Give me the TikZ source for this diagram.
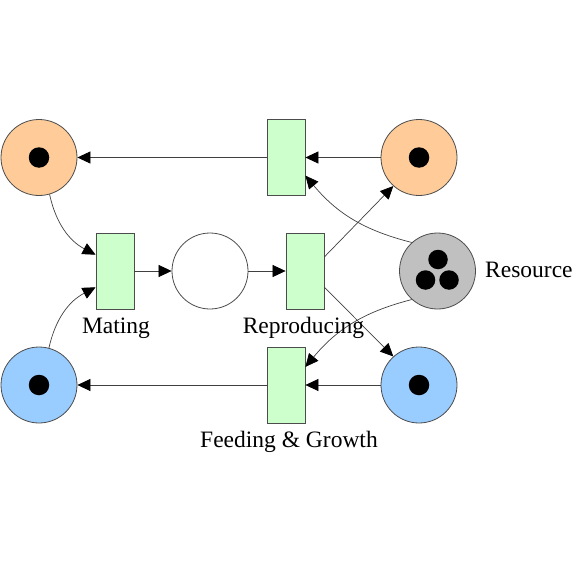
\documentclass[tikz,border=0pt]{standalone}
\usepackage{fontspec}
\setmainfont{Liberation Serif}
\usetikzlibrary{arrows.meta}
\definecolor{torange}{HTML}{FFCC99}
\definecolor{tblue}{HTML}{99CCFF}
\definecolor{tgreen}{HTML}{CCFFCC}
\definecolor{tgray}{HTML}{C0C0C0}
\begin{document}
\begin{tikzpicture}[x=1pt,y=-1pt,
  place/.style={circle,draw=black!70,line width=0.8pt,minimum size=76pt,inner sep=0pt},
  trans/.style={rectangle,draw=black!70,line width=0.8pt,fill=tgreen,minimum width=38pt,minimum height=76pt,inner sep=0pt},
  token/.style={circle,fill=black,minimum size=20.5pt,inner sep=0pt},
  arc/.style={draw=black!75,line width=0.7pt,-{Triangle[length=13pt,width=12pt,color=black]}},
  lbl/.style={font=\fontsize{23.5}{28}\selectfont,inner sep=0pt}]
\useasboundingbox (0,0) rectangle (575,575);
% places
\node[place,fill=torange] (tl) at (39,157.5) {};
\node[token] (tltok) at (tl) {};
\node[place,fill=torange] (tr) at (419,157.5) {};
\node[token] (trtok) at (tr) {};
\node[place,fill=tblue] (bl) at (39,385) {};
\node[token] (bltok) at (bl) {};
\node[place,fill=tblue] (br) at (419,385) {};
\node[token] (brtok) at (br) {};
\node[place,fill=white] (mid) at (210,271) {};
\node[place,fill=tgray] (res) at (437.5,271) {};
\node[token,minimum size=19.5pt] (rtok1) at (438,259.5) {};
\node[token,minimum size=19.5pt] (rtok2) at (425.5,280) {};
\node[token,minimum size=19.5pt] (rtok3) at (449,280) {};
% transitions
\node[trans] (ttop) at (286,157.5) {};
\node[trans] (mat) at (115,271) {};
\node[trans] (rep) at (305,271) {};
\node[trans] (tfeed) at (286,385) {};
% arcs
\draw[arc] (ttop) -- (tl);
\draw[arc] (tr) -- (ttop);
\draw[arc] (res.132) to[bend left=18] (ttop.-43);
\draw[arc] (rep.36) -- (tr.228);
\draw[arc] (rep.-40) -- (br.132);
\draw[arc] (res.228) to[bend right=18] (tfeed.43);
\draw[arc] (br) -- (tfeed);
\draw[arc] (tfeed) -- (bl);
\draw[arc] (tl.-74) to[bend right=25] (mat.140);
\draw[arc] (bl.75) to[bend left=25] (mat.220);
\draw[arc] (mat) -- (mid);
\draw[arc] (mid) -- (rep);
% labels
\node[lbl,anchor=base] (lmat) at (116,333) {Mating};
\node[lbl,anchor=base] (lrep) at (303.5,333) {Reproducing};
\node[lbl,anchor=base] (lfeed) at (289,447) {Feeding \& Growth};
\node[lbl,anchor=base west] (lres) at (485,277) {Resource};
\end{tikzpicture}
\end{document}
